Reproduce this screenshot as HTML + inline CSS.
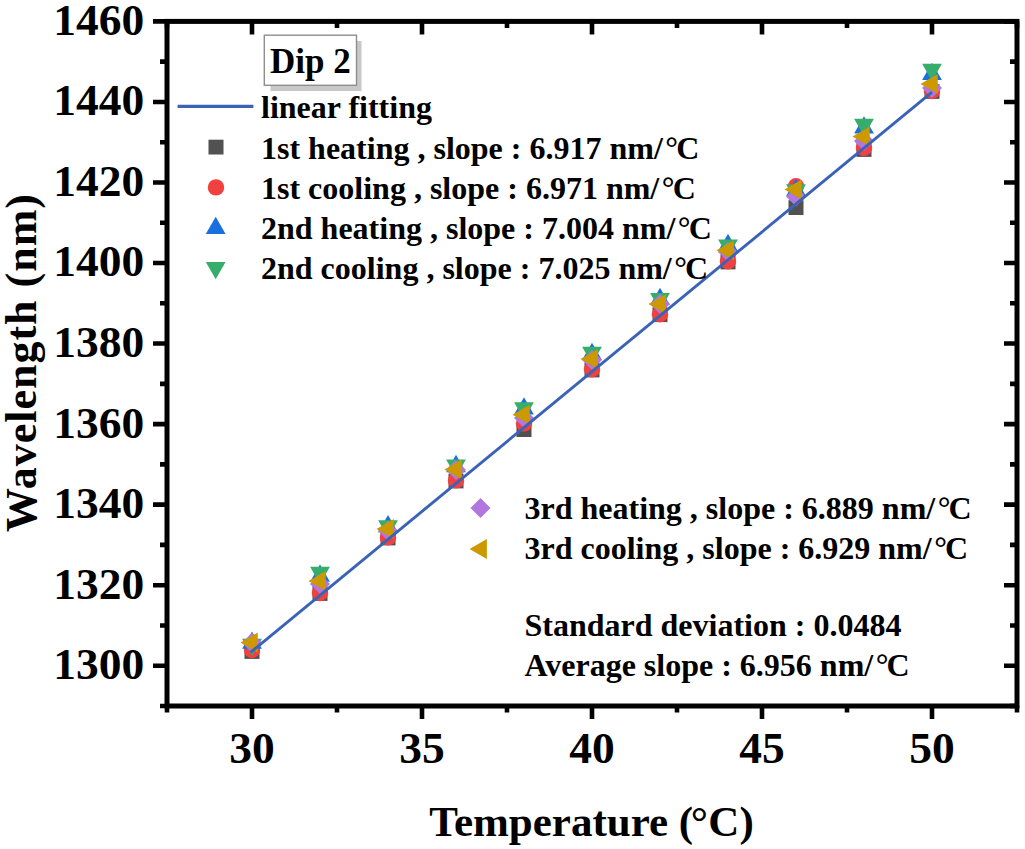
<!DOCTYPE html>
<html><head><meta charset="utf-8"><style>
html,body{margin:0;padding:0;background:#fff;}
svg{display:block;}
text{font-family:"Liberation Serif",serif;font-weight:bold;fill:#000;}
.tl{font-size:45.5px;}
.at{font-size:43px;}
.aty{font-size:44px;letter-spacing:1px;}
.lg{font-size:32px;}
.dip{font-size:35px;}
</style></head><body>
<svg width="1025" height="849" viewBox="0 0 1025 849">
<rect x="167" y="21.4" width="850" height="684.6" fill="none" stroke="#000" stroke-width="5.0"/>
<path d="M153,665.73H167M1017,665.73H1004M153,585.19H167M1017,585.19H1004M153,504.65H167M1017,504.65H1004M153,424.11H167M1017,424.11H1004M153,343.56H167M1017,343.56H1004M153,263.02H167M1017,263.02H1004M153,182.48H167M1017,182.48H1004M153,101.94H167M1017,101.94H1004M153,21.40H167M1017,21.40H1004M160,706.00H167M1017,706.00H1010M160,625.46H167M1017,625.46H1010M160,544.92H167M1017,544.92H1010M160,464.38H167M1017,464.38H1010M160,383.84H167M1017,383.84H1010M160,303.29H167M1017,303.29H1010M160,222.75H167M1017,222.75H1010M160,142.21H167M1017,142.21H1010M160,61.67H167M1017,61.67H1010M252.00,706V719M252.00,21.4V34.4M422.00,706V719M422.00,21.4V34.4M592.00,706V719M592.00,21.4V34.4M762.00,706V719M762.00,21.4V34.4M932.00,706V719M932.00,21.4V34.4M167.00,706V712.5M167.00,21.4V27.9M337.00,706V712.5M337.00,21.4V27.9M507.00,706V712.5M507.00,21.4V27.9M677.00,706V712.5M677.00,21.4V27.9M847.00,706V712.5M847.00,21.4V27.9M1017.00,706V712.5M1017.00,21.4V27.9" stroke="#000" stroke-width="4.6" fill="none"/>
<text transform="translate(144.2,679.1) scale(1,0.965)" text-anchor="end" class="tl">1300</text>
<text transform="translate(144.2,598.6) scale(1,0.965)" text-anchor="end" class="tl">1320</text>
<text transform="translate(144.2,518.0) scale(1,0.965)" text-anchor="end" class="tl">1340</text>
<text transform="translate(144.2,437.5) scale(1,0.965)" text-anchor="end" class="tl">1360</text>
<text transform="translate(144.2,357.0) scale(1,0.965)" text-anchor="end" class="tl">1380</text>
<text transform="translate(144.2,276.4) scale(1,0.965)" text-anchor="end" class="tl">1400</text>
<text transform="translate(144.2,195.9) scale(1,0.965)" text-anchor="end" class="tl">1420</text>
<text transform="translate(144.2,115.3) scale(1,0.965)" text-anchor="end" class="tl">1440</text>
<text transform="translate(144.2,34.8) scale(1,0.965)" text-anchor="end" class="tl">1460</text>
<text transform="translate(252.0,763.4) scale(1,0.965)" text-anchor="middle" class="tl">30</text>
<text transform="translate(422.0,763.4) scale(1,0.965)" text-anchor="middle" class="tl">35</text>
<text transform="translate(592.0,763.4) scale(1,0.965)" text-anchor="middle" class="tl">40</text>
<text transform="translate(762.0,763.4) scale(1,0.965)" text-anchor="middle" class="tl">45</text>
<text transform="translate(932.0,763.4) scale(1,0.965)" text-anchor="middle" class="tl">50</text>
<text x="591.5" y="835.5" text-anchor="middle" class="at">Temperature (<tspan dx="-2.3">°</tspan><tspan dx="0.3">C</tspan>)</text>
<text transform="translate(35.5,362.5) rotate(-90)" x="0" y="0" text-anchor="middle" class="aty">Wavelength (nm)</text>
<rect x="244.50" y="644.10" width="15" height="14.8" fill="#515151"/>
<rect x="312.50" y="586.10" width="15" height="14.8" fill="#515151"/>
<rect x="380.50" y="530.60" width="15" height="14.8" fill="#515151"/>
<rect x="448.50" y="473.60" width="15" height="14.8" fill="#515151"/>
<rect x="516.50" y="422.20" width="15" height="14.8" fill="#515151"/>
<rect x="584.50" y="362.60" width="15" height="14.8" fill="#515151"/>
<rect x="652.50" y="307.30" width="15" height="14.8" fill="#515151"/>
<rect x="720.50" y="254.60" width="15" height="14.8" fill="#515151"/>
<rect x="788.50" y="200.20" width="15" height="14.8" fill="#515151"/>
<rect x="856.50" y="142.10" width="15" height="14.8" fill="#515151"/>
<rect x="924.50" y="84.10" width="15" height="14.8" fill="#515151"/>
<circle cx="252.00" cy="650.00" r="8.2" fill="#F14040"/>
<circle cx="320.00" cy="593.00" r="8.2" fill="#F14040"/>
<circle cx="388.00" cy="537.40" r="8.2" fill="#F14040"/>
<circle cx="456.00" cy="480.40" r="8.2" fill="#F14040"/>
<circle cx="524.00" cy="423.50" r="8.2" fill="#F14040"/>
<circle cx="592.00" cy="369.20" r="8.2" fill="#F14040"/>
<circle cx="660.00" cy="314.20" r="8.2" fill="#F14040"/>
<circle cx="728.00" cy="261.30" r="8.2" fill="#F14040"/>
<circle cx="796.00" cy="186.20" r="8.2" fill="#F14040"/>
<circle cx="864.00" cy="148.00" r="8.2" fill="#F14040"/>
<circle cx="932.00" cy="91.00" r="8.2" fill="#F14040"/>
<path d="M252.00,631.57L261.90,648.87H242.10Z" fill="#1A6FDF"/>
<path d="M320.00,564.47L329.90,581.77H310.10Z" fill="#1A6FDF"/>
<path d="M388.00,515.07L397.90,532.37H378.10Z" fill="#1A6FDF"/>
<path d="M456.00,454.87L465.90,472.17H446.10Z" fill="#1A6FDF"/>
<path d="M524.00,397.17L533.90,414.47H514.10Z" fill="#1A6FDF"/>
<path d="M592.00,342.77L601.90,360.07H582.10Z" fill="#1A6FDF"/>
<path d="M660.00,287.67L669.90,304.97H650.10Z" fill="#1A6FDF"/>
<path d="M728.00,233.87L737.90,251.17H718.10Z" fill="#1A6FDF"/>
<path d="M796.00,178.67L805.90,195.97H786.10Z" fill="#1A6FDF"/>
<path d="M864.00,116.27L873.90,133.57H854.10Z" fill="#1A6FDF"/>
<path d="M932.00,62.67L941.90,79.97H922.10Z" fill="#1A6FDF"/>
<path d="M252.00,655.93L261.90,638.63H242.10Z" fill="#37AD6B"/>
<path d="M320.00,584.13L329.90,566.83H310.10Z" fill="#37AD6B"/>
<path d="M388.00,537.63L397.90,520.33H378.10Z" fill="#37AD6B"/>
<path d="M456.00,476.83L465.90,459.53H446.10Z" fill="#37AD6B"/>
<path d="M524.00,419.43L533.90,402.13H514.10Z" fill="#37AD6B"/>
<path d="M592.00,364.13L601.90,346.83H582.10Z" fill="#37AD6B"/>
<path d="M660.00,310.23L669.90,292.93H650.10Z" fill="#37AD6B"/>
<path d="M728.00,256.73L737.90,239.43H718.10Z" fill="#37AD6B"/>
<path d="M796.00,201.43L805.90,184.13H786.10Z" fill="#37AD6B"/>
<path d="M864.00,136.13L873.90,118.83H854.10Z" fill="#37AD6B"/>
<path d="M932.00,81.13L941.90,63.83H922.10Z" fill="#37AD6B"/>
<path d="M252.00,632.70L262.00,642.70L252.00,652.70L242.00,642.70Z" fill="#B177DE"/>
<path d="M320.00,574.00L330.00,584.00L320.00,594.00L310.00,584.00Z" fill="#B177DE"/>
<path d="M388.00,521.00L398.00,531.00L388.00,541.00L378.00,531.00Z" fill="#B177DE"/>
<path d="M456.00,460.00L466.00,470.00L456.00,480.00L446.00,470.00Z" fill="#B177DE"/>
<path d="M524.00,408.00L534.00,418.00L524.00,428.00L514.00,418.00Z" fill="#B177DE"/>
<path d="M592.00,350.00L602.00,360.00L592.00,370.00L582.00,360.00Z" fill="#B177DE"/>
<path d="M660.00,294.00L670.00,304.00L660.00,314.00L650.00,304.00Z" fill="#B177DE"/>
<path d="M728.00,242.00L738.00,252.00L728.00,262.00L718.00,252.00Z" fill="#B177DE"/>
<path d="M796.00,186.50L806.00,196.50L796.00,206.50L786.00,196.50Z" fill="#B177DE"/>
<path d="M864.00,131.00L874.00,141.00L864.00,151.00L854.00,141.00Z" fill="#B177DE"/>
<path d="M932.00,78.00L942.00,88.00L932.00,98.00L922.00,88.00Z" fill="#B177DE"/>
<path d="M240.47,642.50L257.77,632.60V652.40Z" fill="#CC9900"/>
<path d="M308.47,580.90L325.77,571.00V590.80Z" fill="#CC9900"/>
<path d="M376.47,528.90L393.77,519.00V538.80Z" fill="#CC9900"/>
<path d="M444.47,469.50L461.77,459.60V479.40Z" fill="#CC9900"/>
<path d="M512.47,414.70L529.77,404.80V424.60Z" fill="#CC9900"/>
<path d="M580.47,359.10L597.77,349.20V369.00Z" fill="#CC9900"/>
<path d="M648.47,304.10L665.77,294.20V314.00Z" fill="#CC9900"/>
<path d="M716.47,250.30L733.77,240.40V260.20Z" fill="#CC9900"/>
<path d="M784.47,189.50L801.77,179.60V199.40Z" fill="#CC9900"/>
<path d="M852.47,136.50L869.77,126.60V146.40Z" fill="#CC9900"/>
<path d="M920.47,83.90L937.77,74.00V93.80Z" fill="#CC9900"/>
<path d="M250.5,652.4L932,92.2" stroke="#3A63B6" stroke-width="2.9" fill="none"/>
<rect x="270.5" y="41" width="91" height="50" fill="#c8c8c8"/>
<rect x="264.3" y="35.2" width="92.2" height="50.1" fill="#fff" stroke="#8e8e8e" stroke-width="1.4"/>
<text x="270" y="72.6" class="dip">Dip 2</text>
<path d="M177.6,106.4H253.4" stroke="#3A63B6" stroke-width="3.2"/>
<text x="261" y="117.7" class="lg">linear fitting</text>
<text x="261" y="159" class="lg">1st heating , slope : 6.917 nm/<tspan dx="2.5">°</tspan><tspan dx="-1.9">C</tspan></text>
<text x="261" y="199" class="lg">1st cooling , slope : 6.971 nm/<tspan dx="2.5">°</tspan><tspan dx="-1.9">C</tspan></text>
<text x="261" y="239" class="lg">2nd heating , slope : 7.004 nm/<tspan dx="2.5">°</tspan><tspan dx="-1.9">C</tspan></text>
<text x="261" y="279" class="lg">2nd cooling , slope : 7.025 nm/<tspan dx="2.5">°</tspan><tspan dx="-1.9">C</tspan></text>
<rect x="208.50" y="139.70" width="15" height="14.8" fill="#515151"/>
<circle cx="216.00" cy="187.40" r="8.2" fill="#F14040"/>
<path d="M215.70,216.77L225.60,234.07H205.80Z" fill="#1A6FDF"/>
<path d="M215.70,279.33L225.60,262.03H205.80Z" fill="#37AD6B"/>
<path d="M480.50,498.00L490.50,508.00L480.50,518.00L470.50,508.00Z" fill="#B177DE"/>
<path d="M469.57,549.00L486.87,539.10V558.90Z" fill="#CC9900"/>
<text x="524.5" y="519.3" class="lg">3rd heating , slope : 6.889 nm/<tspan dx="2.5">°</tspan><tspan dx="-1.9">C</tspan></text>
<text x="524.5" y="559" class="lg">3rd cooling , slope : 6.929 nm/<tspan dx="2.5">°</tspan><tspan dx="-1.9">C</tspan></text>
<text x="524.5" y="636" class="lg">Standard deviation : 0.0484</text>
<text x="524.5" y="675.8" class="lg">Average slope : 6.956 nm/<tspan dx="2.5">°</tspan><tspan dx="-1.9">C</tspan></text>
</svg>
</body></html>
